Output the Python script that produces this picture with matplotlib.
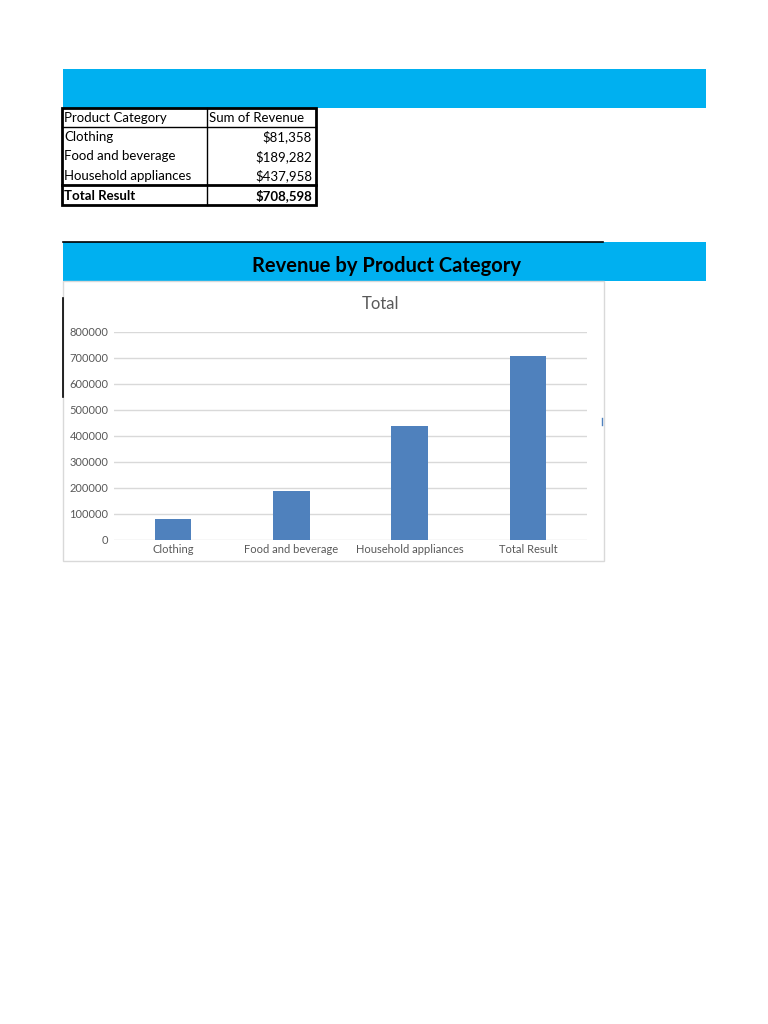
import matplotlib
matplotlib.use("Agg")
import matplotlib.pyplot as plt
from matplotlib.patches import Rectangle

# data
categories = ["Clothing", "Food and beverage", "Household appliances"]
revenue = [81358, 189282, 437958]
total_label = "Total Result"
total = sum(revenue)
bar_labels = categories + [total_label]
bar_values = revenue + [total]
y_ticks = [0, 100000, 200000, 300000, 400000, 500000, 600000, 700000, 800000]

BLUE_BAND = "#00B0F0"
BAR = "#4F81BD"
GRAY_TXT = "#595959"
GRID = "#D9D9D9"

plt.rcParams['font.family'] = ['Lato', 'DejaVu Sans']

fig = plt.figure(figsize=(7.68, 10.24), dpi=100)

# background layer in pixel coords
bg = fig.add_axes([0, 0, 1, 1])
bg.set_xlim(0, 768)
bg.set_ylim(1024, 0)
bg.axis('off')

# top band
bg.add_patch(Rectangle((63, 69), 643, 39, color=BLUE_BAND, lw=0))

# pivot table
tl, tr, tmid = 62, 316, 207
rows_y = [108, 127, 146, 166, 185, 205]
bg.add_patch(Rectangle((tl, rows_y[0]), tr - tl, rows_y[-1] - rows_y[0],
                       fill=False, ec="black", lw=2))
bg.plot([tl, tr], [rows_y[1], rows_y[1]], color="black", lw=1)
bg.plot([tl, tr], [rows_y[4], rows_y[4]], color="black", lw=2)
bg.plot([tmid, tmid], [rows_y[0], rows_y[-1]], color="black", lw=1)

fs_tab = 9.5
def ymid(i):
    return (rows_y[i] + rows_y[i + 1]) / 2 + 0.5

bg.text(tl + 2, ymid(0), "Product Category", fontsize=fs_tab, va='center', ha='left')
bg.text(tmid + 2, ymid(0), "Sum of Revenue", fontsize=fs_tab, va='center', ha='left')
for i, (c, v) in enumerate(zip(categories, revenue)):
    bg.text(tl + 2, ymid(i + 1), c, fontsize=fs_tab, va='center', ha='left')
    bg.text(tr - 4, ymid(i + 1), f"${v:,}", fontsize=fs_tab, va='center', ha='right')
bg.text(tl + 2, ymid(4), total_label, fontsize=fs_tab, va='center', ha='left', fontweight='bold')
bg.text(tr - 4, ymid(4), f"${total:,}", fontsize=fs_tab, va='center', ha='right', fontweight='bold')

# chart header band
bg.add_patch(Rectangle((63, 242), 643, 39, color=BLUE_BAND, lw=0))
bg.plot([63, 603], [242, 242], color="black", lw=1.2)
bg.text(386, 266, "Revenue by Product Category", fontsize=14.5, fontweight='bold',
        ha='center', va='center')

# chart area frame
bg.add_patch(Rectangle((63, 281), 541, 280, fill=False, ec=GRID, lw=1))
bg.plot([63, 63], [298, 397], color="black", lw=1.2)
bg.plot([602, 602], [418, 425], color=BAR, lw=1)
bg.text(381, 304, "Total", fontsize=12, color=GRAY_TXT, ha='center', va='center')

# bar chart
ax = fig.add_axes([114 / 768, (1024 - 540) / 1024, 473 / 768, 208 / 1024])
x = range(len(bar_labels))
ax.bar(x, bar_values, width=0.31, color=BAR, zorder=3)
ax.set_xlim(-0.5, len(bar_labels) - 0.5)
ax.set_ylim(0, 800000)
ax.set_yticks(y_ticks)
ax.set_yticklabels([str(t) for t in y_ticks])
ax.set_xticks(list(x))
ax.set_xticklabels(bar_labels)
ax.tick_params(axis='both', length=0, labelsize=8, labelcolor=GRAY_TXT)
ax.tick_params(axis='y', pad=4)
ax.tick_params(axis='x', pad=3)
ax.grid(axis='y', color=GRID, lw=1, zorder=0)
for s in ax.spines.values():
    s.set_visible(False)
ax.patch.set_alpha(0)

fig.savefig("out.png", dpi=100)
